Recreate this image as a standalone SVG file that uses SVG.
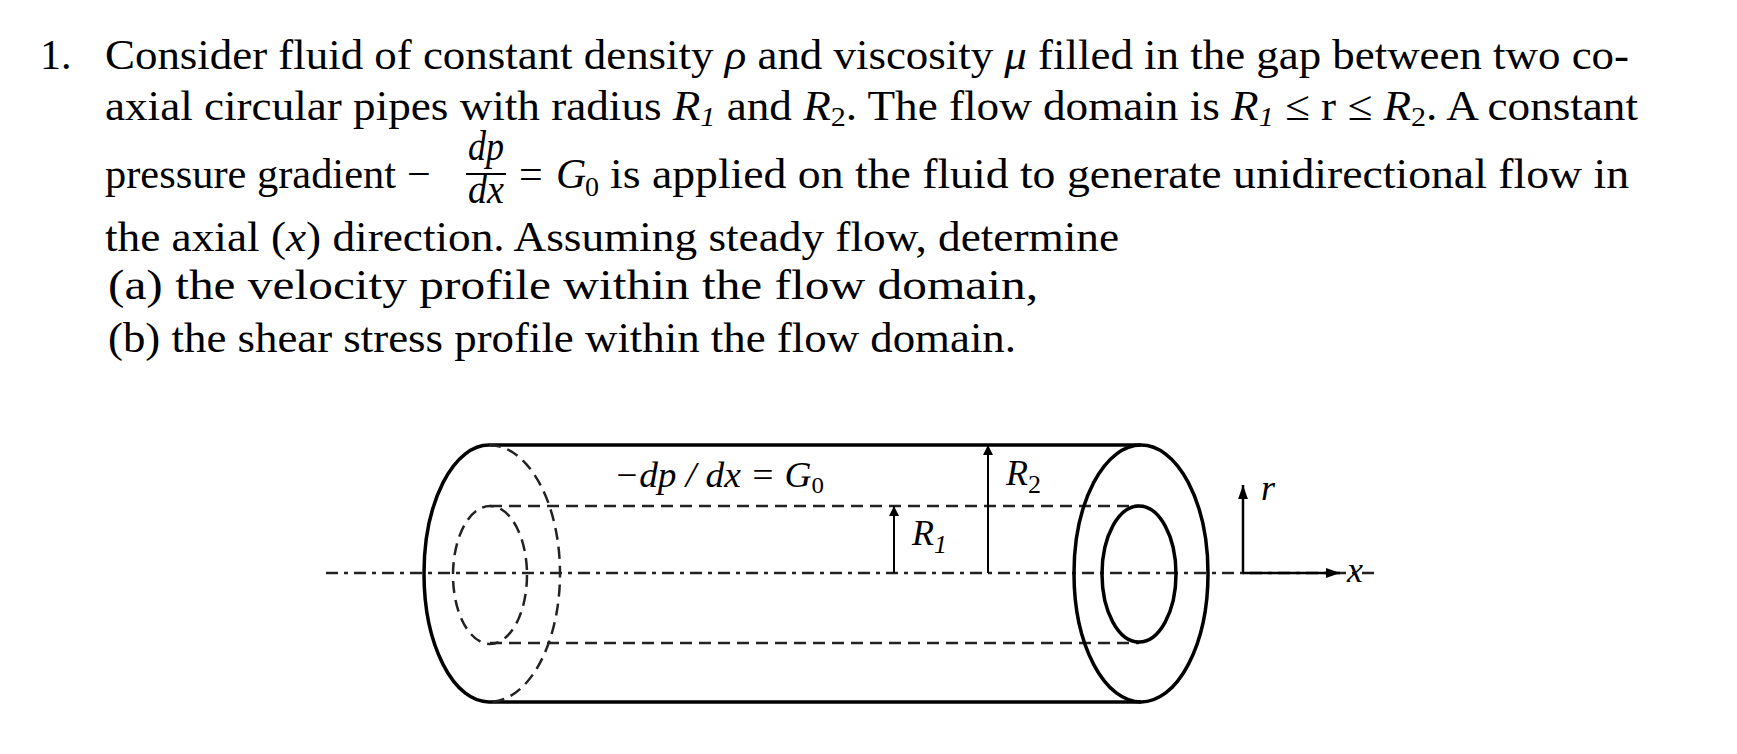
<svg xmlns="http://www.w3.org/2000/svg" width="1737" height="754" viewBox="0 0 1737 754">
<defs>
<marker id="ah" viewBox="0 0 10 10" refX="10" refY="5" markerWidth="10" markerHeight="10" markerUnits="userSpaceOnUse" orient="auto"><path d="M0,0 L10,5 L0,10 z" fill="#000"/></marker>
<marker id="ahb" viewBox="0 0 10 10" refX="10" refY="5" markerWidth="14" markerHeight="14" markerUnits="userSpaceOnUse" orient="auto"><path d="M0,1.5 L10,5 L0,8.5 z" fill="#000"/></marker>
</defs>
<style>
.t{font-family:"Liberation Serif","Times New Roman",serif;font-size:42px;fill:#000}
.i{font-style:italic}
.s{font-size:28px}
.f{font-family:"Liberation Serif",serif;font-style:italic;font-size:36px;fill:#000}
.solid{fill:none;stroke:#000;stroke-width:3.5}
.dash{fill:none;stroke:#222;stroke-width:2.5;stroke-dasharray:12 7}
.axis{fill:none;stroke:#222;stroke-width:2.5;stroke-dasharray:12 6 4 6}
.thin{stroke:#000;stroke-width:2}
</style>
<rect width="1737" height="754" fill="#fff"/>
<g id="text">
<text class="t" x="40" y="69">1.</text>
<text class="t" x="105" y="69" textLength="1524" lengthAdjust="spacingAndGlyphs">Consider fluid of constant density <tspan class="i">ρ</tspan> and viscosity <tspan class="i">μ</tspan> filled in the gap between two co-</text>
<text class="t" x="105" y="120" textLength="1533" lengthAdjust="spacingAndGlyphs">axial circular pipes with radius <tspan class="i">R</tspan><tspan class="i s" dy="6">1</tspan><tspan dy="-6"> and </tspan><tspan class="i">R</tspan><tspan class="s" dy="6">2</tspan><tspan dy="-6">. The flow domain is </tspan><tspan class="i">R</tspan><tspan class="i s" dy="6">1</tspan><tspan dy="-6"> ≤ r ≤ </tspan><tspan class="i">R</tspan><tspan class="s" dy="6">2</tspan><tspan dy="-6">. A constant</tspan></text>
<text class="t" x="105" y="188" textLength="291" lengthAdjust="spacingAndGlyphs">pressure gradient</text>
<text class="t" x="407" y="188">−</text>
<text class="t i" x="468" y="160" font-size="30" textLength="36" lengthAdjust="spacingAndGlyphs">dp</text>
<line x1="466" y1="174" x2="506" y2="174" stroke="#000" stroke-width="2"/>
<text class="t i" x="468" y="203" font-size="30" textLength="36" lengthAdjust="spacingAndGlyphs">dx</text>
<text class="t" x="519" y="188">=</text>
<text class="t i" x="556" y="188">G</text><text class="t s" x="585" y="196">0</text>
<text class="t" x="610" y="188" textLength="1019" lengthAdjust="spacingAndGlyphs">is applied on the fluid to generate unidirectional flow in</text>
<text class="t" x="105" y="251" textLength="1014" lengthAdjust="spacingAndGlyphs">the axial (<tspan class="i">x</tspan>) direction. Assuming steady flow, determine</text>
<text class="t" x="108" y="299" textLength="930" lengthAdjust="spacingAndGlyphs">(a) the velocity profile within the flow domain,</text>
<text class="t" x="108" y="352" textLength="908" lengthAdjust="spacingAndGlyphs">(b) the shear stress profile within the flow domain.</text>
</g>
<g id="pipe">
<line class="axis" x1="326" y1="573" x2="1375" y2="573"/>
<line class="solid" x1="489" y1="445" x2="1141" y2="445"/>
<line class="solid" x1="489" y1="702" x2="1141" y2="702"/>
<line class="dash" x1="490" y1="506" x2="1139" y2="506"/>
<line class="dash" x1="490" y1="643" x2="1139" y2="643"/>
<path class="solid" d="M489,445 A65,128.5 0 0 0 489,702"/>
<path class="dash" d="M489,445 A71,128.5 0 0 1 489,702"/>
<ellipse class="dash" cx="490" cy="575" rx="37" ry="69"/>
<ellipse class="solid" cx="1141" cy="573.5" rx="67" ry="128.5"/>
<ellipse class="solid" cx="1139" cy="574" rx="37" ry="68"/>
</g>
<g id="labels">
<line class="thin" x1="894" y1="573" x2="894" y2="506" marker-end="url(#ah)"/>
<line class="thin" x1="988" y1="573" x2="988" y2="445" marker-end="url(#ah)"/>
<text class="f" x="614" y="487" textLength="210" lengthAdjust="spacingAndGlyphs">−dp / dx = G<tspan font-size="24" dy="6" font-style="normal">0</tspan></text>
<text class="f" x="912" y="545">R<tspan font-size="26" dy="8">1</tspan></text>
<text class="f" x="1006" y="485">R<tspan font-size="26" dy="8" font-style="normal">2</tspan></text>
</g>
<g id="axes">
<line x1="1243" y1="573" x2="1243" y2="485" stroke="#000" stroke-width="2.5" marker-end="url(#ahb)"/>
<line x1="1243" y1="573" x2="1340" y2="573" stroke="#000" stroke-width="2.5" marker-end="url(#ahb)"/>
<text class="f" x="1261" y="500" font-size="32">r</text>
<text class="f" x="1347" y="582" font-size="32">x</text>
</g>
</svg>
